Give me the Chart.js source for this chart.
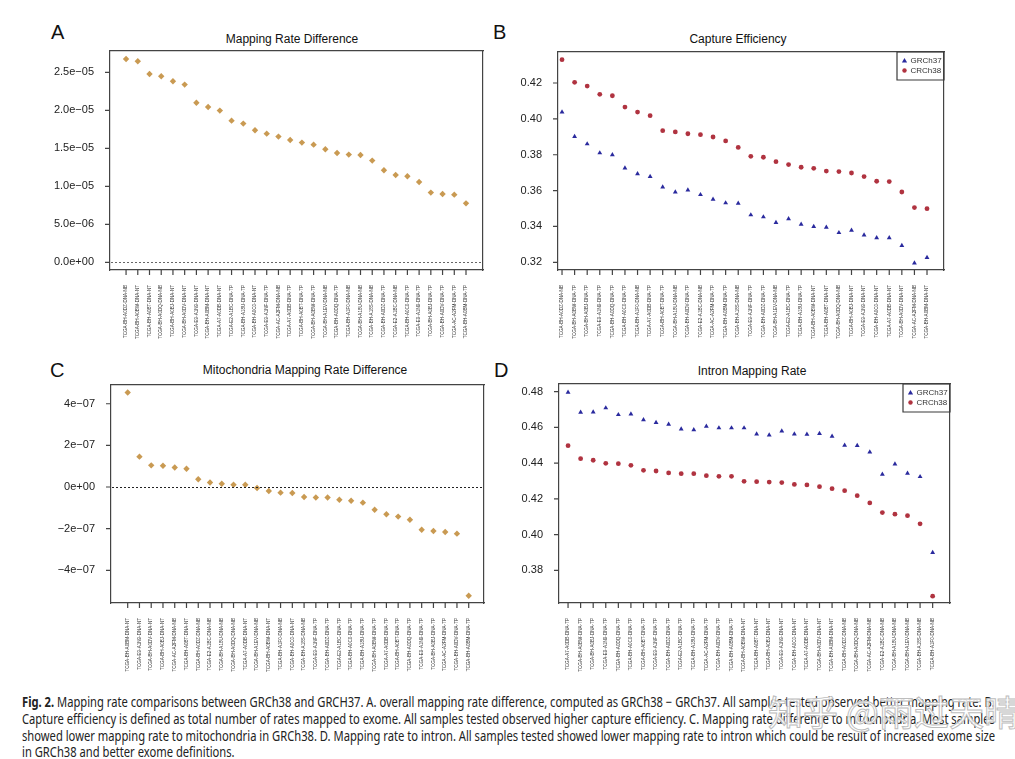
<!DOCTYPE html>
<html>
<head>
<meta charset="utf-8">
<script src="https://cdn.jsdelivr.net/npm/chart.js@4.4.1/dist/chart.umd.min.js"></script>
<style>
  html, body { margin: 0; padding: 0; background: #fff; }
  body { width: 1015px; height: 759px; position: relative; overflow: hidden; font-family: "Liberation Sans", Arial, sans-serif; }
  canvas { position: absolute; }
  .letter { position: absolute; font-family: "Liberation Sans", Arial, sans-serif; font-size: 20px; line-height: 20px; color: #111; }
  .ptitle { position: absolute; font-family: "Liberation Sans", Arial, sans-serif; font-size: 12px; line-height: 14px; color: #111; transform: translateX(-50%); white-space: nowrap; }
  .cap { position: absolute; left: 22px; white-space: nowrap; font-family: "Noto Sans", "Open Sans", sans-serif; font-size: 14px; line-height: 16px; color: #222; transform-origin: 0 0; display: inline-block; }
  .wm { position: absolute; left: 768px; top: 690px; font-family: "Noto Sans CJK SC", sans-serif; font-size: 35px; line-height: 42px; color: rgba(255,255,255,0.85); -webkit-text-stroke: 1px #bdbdbd; white-space: nowrap; }
</style>
</head>
<body>
<div class="letter" style="left:51px;top:22px;">A</div>
<div class="letter" style="left:493px;top:22px;">B</div>
<div class="letter" style="left:50px;top:360px;">C</div>
<div class="letter" style="left:494px;top:360px;">D</div>
<div class="ptitle" style="left:292px;top:32px;">Mapping Rate Difference</div>
<div class="ptitle" style="left:738px;top:32px;">Capture Efficiency</div>
<div class="ptitle" style="left:305px;top:363px;">Mitochondria Mapping Rate Difference</div>
<div class="ptitle" style="left:752px;top:364px;">Intron Mapping Rate</div>

<canvas id="cA" width="500" height="350" style="left:0px;top:0px;"></canvas>
<canvas id="cB" width="510" height="350" style="left:490px;top:0px;"></canvas>
<canvas id="cC" width="500" height="330" style="left:0px;top:350px;"></canvas>
<canvas id="cD" width="510" height="330" style="left:490px;top:350px;"></canvas>

<div class="cap" id="l1" style="top:694px;"><b>Fig. 2.</b> Mapping rate comparisons between GRCh38 and GRCH37. A. overall mapping rate difference, computed as GRCh38 − GRCh37. All samples tested observed better mapping rate. B.</div>
<div class="cap" id="l2" style="top:711px;">Capture efficiency is defined as total number of rates mapped to exome. All samples tested observed higher capture efficiency. C. Mapping rate difference to mitochondria. Most samples</div>
<div class="cap" id="l3" style="top:728px;">showed lower mapping rate to mitochondria in GRCh38. D. Mapping rate to intron. All samples tested showed lower mapping rate to intron which could be result of increased exome size</div>
<div class="cap" id="l4" style="top:744px;">in GRCh38 and better exome definitions.</div>
<div class="wm">知乎 @雨过天晴</div>

<script>
// ---------------- DATA ----------------
const labelsA = ["TCGA-BH-A0DZ-DNA-NB","TCGA-BH-A0BW-DNA-NT","TCGA-BH-A0BT-DNA-NT","TCGA-BH-A0DQ-DNA-NB","TCGA-BH-A0BJ-DNA-NT","TCGA-BH-A0DV-DNA-NT","TCGA-E9-A1N9-DNA-NT","TCGA-BH-A0BM-DNA-NT","TCGA-A7-A0DB-DNA-NT","TCGA-E2-A1BC-DNA-TP","TCGA-BH-A18U-DNA-TP","TCGA-BH-A0C0-DNA-NT","TCGA-E9-A1NF-DNA-TP","TCGA-AC-A2FM-DNA-NB","TCGA-A7-A0DB-DNA-TP","TCGA-BH-A0BT-DNA-TP","TCGA-BH-A0BW-DNA-TP","TCGA-BH-A1EV-DNA-NB","TCGA-BH-A0DQ-DNA-TP","TCGA-BH-A1F0-DNA-NB","TCGA-BH-A18U-DNA-NB","TCGA-BH-A18S-DNA-NB","TCGA-BH-A0DZ-DNA-TP","TCGA-E2-A1BC-DNA-NB","TCGA-BH-A0C0-DNA-TP","TCGA-E9-A1N9-DNA-TP","TCGA-BH-A0BJ-DNA-TP","TCGA-BH-A0DV-DNA-TP","TCGA-AC-A2FM-DNA-TP","TCGA-BH-A0BM-DNA-TP"];
const labelsB = ["TCGA-BH-A0DZ-DNA-NB","TCGA-BH-A0BW-DNA-TP","TCGA-BH-A0BJ-DNA-TP","TCGA-E9-A1N9-DNA-TP","TCGA-BH-A0DQ-DNA-TP","TCGA-BH-A0C0-DNA-TP","TCGA-BH-A1F0-DNA-NB","TCGA-A7-A0DB-DNA-TP","TCGA-BH-A0BT-DNA-TP","TCGA-BH-A18U-DNA-NB","TCGA-BH-A0DV-DNA-TP","TCGA-E2-A1BC-DNA-NB","TCGA-AC-A2FM-DNA-TP","TCGA-BH-A0BM-DNA-TP","TCGA-BH-A18S-DNA-NB","TCGA-E9-A1NF-DNA-TP","TCGA-BH-A0DZ-DNA-TP","TCGA-BH-A1EV-DNA-NB","TCGA-E2-A1BC-DNA-TP","TCGA-BH-A18U-DNA-TP","TCGA-BH-A0BW-DNA-NT","TCGA-BH-A0BT-DNA-NT","TCGA-BH-A0DQ-DNA-NB","TCGA-BH-A0BJ-DNA-NT","TCGA-E9-A1N9-DNA-NT","TCGA-BH-A0C0-DNA-NT","TCGA-A7-A0DB-DNA-NT","TCGA-BH-A0DV-DNA-NT","TCGA-AC-A2FM-DNA-NB","TCGA-BH-A0BM-DNA-NT"];
const labelsC = ["TCGA-BH-A0BM-DNA-NT","TCGA-E9-A1N9-DNA-NT","TCGA-BH-A0DV-DNA-NT","TCGA-BH-A0BJ-DNA-NT","TCGA-AC-A2FM-DNA-NB","TCGA-BH-A0BT-DNA-NT","TCGA-BH-A0DZ-DNA-NB","TCGA-E2-A1BC-DNA-NB","TCGA-BH-A18U-DNA-NB","TCGA-BH-A0DQ-DNA-NB","TCGA-A7-A0DB-DNA-NT","TCGA-BH-A1EV-DNA-NB","TCGA-BH-A0BW-DNA-NT","TCGA-BH-A1F0-DNA-NB","TCGA-BH-A0C0-DNA-NT","TCGA-BH-A18S-DNA-NB","TCGA-E9-A1NF-DNA-TP","TCGA-BH-A0DZ-DNA-TP","TCGA-E2-A1BC-DNA-TP","TCGA-BH-A0C0-DNA-TP","TCGA-BH-A18U-DNA-TP","TCGA-BH-A0BW-DNA-TP","TCGA-A7-A0DB-DNA-TP","TCGA-BH-A0BT-DNA-TP","TCGA-BH-A0DQ-DNA-TP","TCGA-E9-A1N9-DNA-TP","TCGA-BH-A0BJ-DNA-TP","TCGA-AC-A2FM-DNA-TP","TCGA-BH-A0DV-DNA-TP","TCGA-BH-A0BM-DNA-TP"];
const labelsD = ["TCGA-A7-A0DB-DNA-TP","TCGA-BH-A0BW-DNA-TP","TCGA-BH-A0BJ-DNA-TP","TCGA-E9-A1N9-DNA-TP","TCGA-BH-A0DQ-DNA-TP","TCGA-BH-A0C0-DNA-TP","TCGA-BH-A0BT-DNA-TP","TCGA-E9-A1NF-DNA-TP","TCGA-BH-A0DZ-DNA-TP","TCGA-E2-A1BC-DNA-TP","TCGA-BH-A18U-DNA-TP","TCGA-AC-A2FM-DNA-TP","TCGA-BH-A0DV-DNA-TP","TCGA-BH-A0BM-DNA-TP","TCGA-BH-A0BW-DNA-NT","TCGA-BH-A0BT-DNA-NT","TCGA-BH-A0BJ-DNA-NT","TCGA-E9-A1N9-DNA-NT","TCGA-BH-A0C0-DNA-NT","TCGA-A7-A0DB-DNA-NT","TCGA-BH-A0DV-DNA-NT","TCGA-BH-A0BM-DNA-NT","TCGA-BH-A0DZ-DNA-NB","TCGA-BH-A0DQ-DNA-NB","TCGA-AC-A2FM-DNA-NB","TCGA-E2-A1BC-DNA-NB","TCGA-BH-A18U-DNA-NB","TCGA-BH-A1EV-DNA-NB","TCGA-BH-A18S-DNA-NB","TCGA-BH-A1F0-DNA-NB"];

// A: mapping rate difference (GRCh38 - GRCh37)
const mapRateDiff = [2.675e-5,2.645e-5,2.478e-5,2.447e-5,2.382e-5,2.338e-5,2.100e-5,2.044e-5,1.996e-5,1.864e-5,1.825e-5,1.737e-5,1.693e-5,1.654e-5,1.610e-5,1.575e-5,1.548e-5,1.487e-5,1.439e-5,1.417e-5,1.412e-5,1.338e-5,1.211e-5,1.149e-5,1.132e-5,1.057e-5,0.917e-5,0.899e-5,0.890e-5,0.776e-5];
// B: capture efficiency
const captureGRCh37 = [0.4038,0.3901,0.3860,0.3810,0.3799,0.3726,0.3694,0.3678,0.3620,0.3592,0.3603,0.3577,0.3551,0.3531,0.3529,0.3464,0.3453,0.3421,0.3442,0.3412,0.3399,0.3395,0.3365,0.3378,0.3352,0.3336,0.3336,0.3293,0.3196,0.3226];
const captureGRCh38 = [0.4330,0.4204,0.4183,0.4137,0.4129,0.4066,0.4038,0.4018,0.3934,0.3927,0.3917,0.3912,0.3899,0.3877,0.3841,0.3791,0.3786,0.3761,0.3745,0.3730,0.3724,0.3709,0.3706,0.3698,0.3678,0.3652,0.3650,0.3592,0.3505,0.3499];
// C: mitochondria mapping rate difference
const mitoDiff = [4.54e-7,1.46e-7,1.04e-7,1.02e-7,0.94e-7,0.88e-7,0.37e-7,0.22e-7,0.16e-7,0.11e-7,0.11e-7,-0.05e-7,-0.19e-7,-0.27e-7,-0.29e-7,-0.48e-7,-0.50e-7,-0.50e-7,-0.61e-7,-0.66e-7,-0.75e-7,-1.09e-7,-1.31e-7,-1.42e-7,-1.57e-7,-2.05e-7,-2.11e-7,-2.16e-7,-2.24e-7,-5.22e-7];
// D: intron mapping rate
const intronGRCh37 = [0.4796,0.4684,0.4686,0.4709,0.4671,0.4675,0.4643,0.4627,0.4617,0.4591,0.4587,0.4606,0.4597,0.4597,0.4597,0.4563,0.4557,0.4580,0.4563,0.4561,0.4565,0.4550,0.4500,0.4498,0.4462,0.4337,0.4395,0.4343,0.4324,0.3899];
const intronGRCh38 = [0.4498,0.4425,0.4416,0.4399,0.4397,0.4388,0.4360,0.4356,0.4345,0.4341,0.4341,0.4330,0.4326,0.4326,0.4298,0.4296,0.4294,0.4291,0.4281,0.4278,0.4268,0.4257,0.4246,0.4218,0.4177,0.4123,0.4114,0.4106,0.4060,0.3655];

// tick values and labels
const yTicksA = [0, 5e-6, 1e-5, 1.5e-5, 2e-5, 2.5e-5];
const yLabelsA = ["0.0e+00","5.0e\u221206","1.0e\u221205","1.5e\u221205","2.0e\u221205","2.5e\u221205"];
const yTicksB = [0.32, 0.34, 0.36, 0.38, 0.40, 0.42];
const yLabelsB = ["0.32","0.34","0.36","0.38","0.40","0.42"];
const yTicksC = [-4e-7, -2e-7, 0, 2e-7, 4e-7];
const yLabelsC = ["\u22124e\u221207","\u22122e\u221207","0e+00","2e\u221207","4e\u221207"];
const yTicksD = [0.38, 0.40, 0.42, 0.44, 0.46, 0.48];
const yLabelsD = ["0.38","0.40","0.42","0.44","0.46","0.48"];
const seriesNames = ["GRCh37", "CRCh38"];

// ---------------- STYLE ----------------
const ORANGE = "#C99A52";
const BLUE = "#2A2A9E";
const RED = "#B03340";
const EDGE = { display: true, color: "#444", width: 1.2 };

function strokeBox(ctx, x, y, w, h) {
  ctx.beginPath();
  ctx.moveTo(x, y); ctx.lineTo(x + w, y); ctx.lineTo(x + w, y + h); ctx.lineTo(x, y + h); ctx.closePath();
  ctx.stroke();
}

const framePlugin = {
  id: "frame",
  afterDraw(chart, args, opts) {
    const ctx = chart.ctx, a = chart.chartArea;
    const L = Math.round(a.left), T = Math.round(a.top), R = Math.round(a.right), B = Math.round(a.bottom);
    ctx.save();
    if (opts.zero) {
      const y = Math.round(chart.scales.y.getPixelForValue(0));
      ctx.fillStyle = opts.zeroColor || "#333";
      for (let x = L + 1; x < R - 1; x += 4) ctx.fillRect(x, y, 2, 1);
    }
    ctx.strokeStyle = "#444";
    ctx.lineWidth = 1.2;
    const xs = chart.scales.x, ys = chart.scales.y;
    ctx.beginPath();
    xs.ticks.forEach(t => { const px = xs.getPixelForValue(t.value); ctx.moveTo(px, B); ctx.lineTo(px, B + 5); });
    ys.ticks.forEach(t => { const py = ys.getPixelForValue(t.value); ctx.moveTo(L - 5, py); ctx.lineTo(L, py); });
    ctx.stroke();
    if (opts.legend) {
      const w = 47, h = 28;
      const bx = R - w, by = T;
      ctx.strokeStyle = "#3a3a3a";
      ctx.lineWidth = 1.2;
      strokeBox(ctx, bx, by, w, h);
      const tx = bx + 7.5, ty = by + 8.5;
      ctx.fillStyle = BLUE;
      ctx.beginPath(); ctx.moveTo(tx, ty - 2.6); ctx.lineTo(tx + 2.6, ty + 2); ctx.lineTo(tx - 2.6, ty + 2); ctx.closePath(); ctx.fill();
      ctx.fillStyle = RED;
      ctx.beginPath(); ctx.arc(tx, by + 18.5, 2.2, 0, Math.PI * 2); ctx.fill();
      ctx.fillStyle = "#333";
      ctx.font = "8px 'Liberation Sans', Arial, sans-serif";
      ctx.textBaseline = "middle";
      ctx.textAlign = "left";
      ctx.fillText(seriesNames[0], bx + 13.5, ty);
      ctx.fillText(seriesNames[1], bx + 13.5, by + 18.5);
    }
    ctx.restore();
  }
};

function toPts(arr) { return arr.map((v, i) => ({ x: i + 1, y: v })); }

function makeChart(id, cfg) {
  const canvas = document.getElementById(id);
  const datasets = cfg.series.map(s => ({
    label: s.label,
    data: toPts(s.data),
    pointStyle: s.style,
    pointRadius: s.radius,
    pointBackgroundColor: s.color,
    pointBorderColor: s.color,
    pointBorderWidth: 0,
    showLine: false,
    xAxisID: "x",
    yAxisID: "y"
  }));
  return new Chart(canvas, {
    type: "scatter",
    data: { datasets },
    options: {
      responsive: false,
      animation: false,
      events: [],
      layout: { padding: { top: cfg.padTop, right: cfg.padRight, left: 0, bottom: 0 } },
      plugins: {
        legend: { display: false },
        tooltip: { enabled: false },
        title: { display: false },
        frame: { zero: cfg.zero, zeroColor: cfg.zeroColor, legend: cfg.legend }
      },
      scales: {
        x: {
          type: "linear", position: "bottom",
          min: cfg.xMin, max: cfg.xMax,
          afterFit(scale) { scale.height = cfg.xHeight; },
          afterBuildTicks(scale) { scale.ticks = cfg.labels.map((_, i) => ({ value: i + 1 })); },
          border: EDGE,
          grid: { display: false },
          ticks: {
            autoSkip: false, minRotation: 90, maxRotation: 90, padding: 7,
            font: { size: 4.6, family: "'Liberation Sans', Arial, sans-serif" }, color: "#333",
            callback: (v, i) => cfg.labels[i]
          }
        },
        xTop: {
          type: "linear", position: "top",
          min: cfg.xMin, max: cfg.xMax,
          afterFit(scale) { scale.height = 0; },
          border: EDGE,
          grid: { display: false },
          ticks: { display: false }
        },
        y: {
          type: "linear", position: "left",
          min: cfg.yMin, max: cfg.yMax,
          afterFit(scale) { scale.width = cfg.yWidth; },
          afterBuildTicks(scale) { scale.ticks = cfg.yTicks.map(v => ({ value: v })); },
          border: EDGE,
          grid: { display: false },
          ticks: {
            padding: 8,
            font: { size: 11, family: "'Liberation Sans', Arial, sans-serif" }, color: "#222",
            callback: (v, i) => cfg.yLabels[i]
          }
        },
        yRight: {
          type: "linear", position: "right",
          min: cfg.yMin, max: cfg.yMax,
          afterFit(scale) { scale.width = 0; },
          border: EDGE,
          grid: { display: false },
          ticks: { display: false }
        }
      }
    },
    plugins: [framePlugin]
  });
}

makeChart("cA", {
  labels: labelsA,
  series: [{ label: "diff", data: mapRateDiff, style: "rectRot", radius: 3.2, color: ORANGE }],
  padTop: 51, padRight: 17, yWidth: 110, xHeight: 80,
  xMin: -0.37, xMax: 31.45, yMin: -1.01e-6, yMax: 2.78e-5,
  yTicks: yTicksA, yLabels: yLabelsA, zero: true, zeroColor: "#666", legend: false
});
makeChart("cB", {
  labels: labelsB,
  series: [
    { label: seriesNames[0], data: captureGRCh37, style: "triangle", radius: 2.8, color: BLUE },
    { label: seriesNames[1], data: captureGRCh38, style: "circle", radius: 2.4, color: RED }
  ],
  padTop: 52, padRight: 56, yWidth: 68, xHeight: 80,
  xMin: 0.68, xMax: 31.35, yMin: 0.3157, yMax: 0.4373,
  yTicks: yTicksB, yLabels: yLabelsB, zero: false, legend: true
});
makeChart("cC", {
  labels: labelsC,
  series: [{ label: "diff", data: mitoDiff, style: "rectRot", radius: 3.2, color: ORANGE }],
  padTop: 35, padRight: 16, yWidth: 111, xHeight: 77,
  xMin: -0.42, xMax: 31.3, yMin: -5.57e-7, yMax: 4.9e-7,
  yTicks: yTicksC, yLabels: yLabelsC, zero: true, zeroColor: "#222", legend: false
});
makeChart("cD", {
  labels: labelsD,
  series: [
    { label: seriesNames[0], data: intronGRCh37, style: "triangle", radius: 2.8, color: BLUE },
    { label: seriesNames[1], data: intronGRCh38, style: "circle", radius: 2.4, color: RED }
  ],
  padTop: 34, padRight: 50, yWidth: 69, xHeight: 77,
  xMin: 0.28, xMax: 31.38, yMin: 0.3617, yMax: 0.4843,
  yTicks: yTicksD, yLabels: yLabelsD, zero: false, legend: true
});

// fit caption lines to the justified width
(function () {
  const target = 973;
  const ids = ["l1", "l2", "l3"];
  let last = 1;
  ids.forEach(id => {
    const el = document.getElementById(id);
    const s = target / el.offsetWidth;
    el.style.transform = "scaleX(" + s + ")";
    last = s;
  });
  document.getElementById("l4").style.transform = "scaleX(" + last + ")";
})();
</script>
</body>
</html>
